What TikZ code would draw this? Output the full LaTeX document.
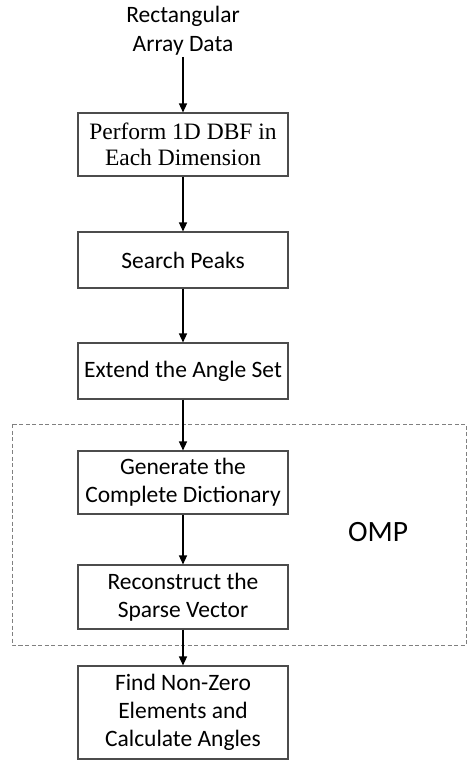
\documentclass[tikz,border=0pt]{standalone}
\usepackage{fontspec}
\setmainfont{Carlito}
\newfontfamily\timesfont{Liberation Serif}
\usetikzlibrary{arrows.meta}
\tikzset{
  stepbox/.style={draw=black!70, line width=1.1pt, minimum width=210pt, align=center,
    inner sep=0pt, font=\fontsize{23.5}{28}\selectfont},
  flow/.style={line width=1.4pt, -{Triangle[length=9pt,width=8pt]}}
}
\begin{document}
\begin{tikzpicture}[x=1pt,y=-1pt]
        \useasboundingbox (0,0) rectangle (474,765);
        \node[align=center, font=\fontsize{23.5}{29}\selectfont] (input) at (183, 31) {Rectangular\\Array Data};
        \coordinate (start) at (183, 57);
        \node[stepbox, minimum height=63pt, font=\timesfont\fontsize{23.5}{26.5}\selectfont] (dbf) at (183, 144.5) {Perform 1D DBF in\\Each Dimension};
        \node[stepbox, minimum height=56pt] (peaks) at (183, 260) {Search Peaks};
        \node[stepbox, minimum height=56pt] (extend) at (183, 371) {Extend the Angle Set};
        \node[stepbox, minimum height=63pt] (dict) at (183, 482.5) {Generate the\\Complete Dictionary};
        \node[stepbox, minimum height=64pt] (recon) at (183, 597) {Reconstruct the\\Sparse Vector};
        \node[stepbox, minimum height=93pt] (angles) at (183, 712.5) {Find Non-Zero\\Elements and\\Calculate Angles};
        % OMP group
        \draw[gray, line width=0.9pt, dash pattern=on 4pt off 2.5pt] (12, 424) rectangle (466, 645);
        \node[font=\fontsize{29.5}{32}\selectfont] (omp) at (378, 532) {OMP};
        % arrows
        \draw[flow] (start) -- (dbf);
        \draw[flow] (dbf) -- (peaks);
        \draw[flow] (peaks) -- (extend);
        \draw[flow] (extend) -- (dict);
        \draw[flow] (dict) -- (recon);
        \draw[flow] (recon) -- (angles);
\end{tikzpicture}
\end{document}
